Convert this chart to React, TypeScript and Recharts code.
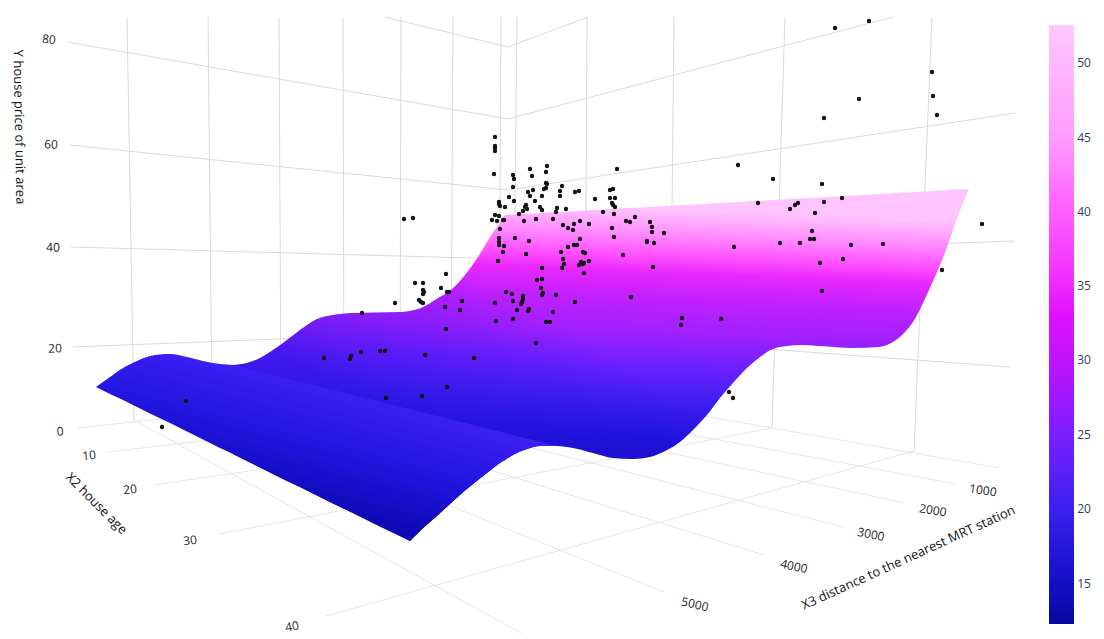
import React from 'react';
import { ComposedChart, Area, Line, Scatter, XAxis, YAxis, ReferenceArea } from 'recharts';

const surfaceX = [96,110,123,137,150,170,187,203,220,233,247,260,273,287,300,317,333,353,377,401,408,410,412,421,438,451,465,478,492,499,503,505,507,513,527,540,557,573,593,613,633,650,667,680,693,707,720,733,747,760,773,787,800,819,853,879,896,905,913,929,946,959,969];
const surfaceTop = [387,377,368,361,356,354,357,361,364,365,363,358,350,340,330,319,315,313,312.5,312,311.3,311,310.6,308,298,290,275,257,234,224,218,215,214.9,214.5,213.8,213,212.1,211.2,210,209,207.8,206.9,206,205.2,204.5,203.7,203,202.2,201.4,200.7,200,199.2,198.5,197.4,195.5,194,193.1,192.6,192.2,191.3,190.3,189.6,189];
const surfaceBottom = [387,394,400,407,413.5,423,431.5,439.5,448,454,461,467.5,474,481,487,495.5,503.5,513,525,536.5,540,541,539,530,515,503,490.5,480,469,463.7,461,460,458.6,455,449,446,446,448,453,458,459,457,450,442,430,415,398,383,368,357,349,346,345,346,348,347,340,332,322,290,250,213,189];
// fold running across the front of the surface, from x=233 to x=557
const foldLine = [365,368.5,371.8,375,378.5,381.8,386,390,395,401,407,408.8,409.3,409.8,412,416.3,419.5,423,426.3,429.8,431.5,432.5,433,433.5,435,438.5,441.8,446];

const pointX = [495,495,495,495,494,513,514,530,547,532,546,617,513,546,547,544,546,562,560,533,528,530,542,560,575,579,610,613,509,514,535,499,499,500,505,526,525,527,540,542,557,556,566,595,610,615,612,613,615,523,519,495,499,492,497,503,504,524,536,553,603,614,626,630,635,650,652,652,664,563,568,573,574,580,589,500,612,614,499,499,499,515,529,580,647,647,654,504,568,574,577,561,583,585,503,526,623,563,498,564,562,542,579,581,583,584,589,653,584,537,542,541,446,415,423,441,423,424,423,447,449,419,421,423,395,506,512,523,523,543,542,556,513,522,521,495,462,575,631,445,460,517,529,528,553,404,413,734,682,721,513,496,546,550,835,869,932,933,859,824,937,738,773,822,758,798,795,790,824,842,815,812,810,814,780,800,851,883,843,820,822,982,942,362,186,162,324,351,350,361,446,536,425,474,380,385,447,386,422,681,729,733];
const pointY = [137,146,148,151,174,175,179,169,166,176,172,169,187,183,184,189,188,186,191,190,192,196,196,196,192,191,190,189,197,201,201,202,204,206,207,205,207,209,207,210,208,212,209,199,198,198,203,205,207,211,214,215,216,220,221,220,220,221,219,219,212,214,221,222,217,222,227,232,233,225,228,230,224,221,224,229,228,237,238,242,245,238,241,239,242,241,243,246,247,245,245,252,252,253,252,254,255,259,261,264,268,268,265,262,264,263,261,267,273,280,279,288,274,283,283,288,290,292,294,292,292,300,302,303,303,292,294,296,299,293,295,295,301,302,304,303,301,302,297,307,310,310,309,311,312,219,218,247,318,319,319,321,322,322,28,21,72,96,99,118,115,165,179,184,203,203,205,209,202,198,213,231,239,239,243,243,245,244,259,263,291,224,270,313,401,427,358,356,359,352,329,343,355,358,351,351,387,398,396,325,392,398];

const wallLines = [
  [[385,17],[508,47],[588,17]],
  [[67,42],[508,119],[893,17]],
  [[69,145],[508,190],[1015,113]],
  [[71,247],[508,259],[1015,241]],
  [[73,347],[508,330],[1011,367]],
  [[127,17],[134,420]],
  [[208,17],[212,410]],
  [[279,17],[281,405]],
  [[343,17],[344,400]],
  [[401,17],[400,395]],
  [[453,17],[451,390]],
  [[501,17],[499,385]],
  [[517,17],[513,383]],
  [[587,17],[585,395]],
  [[674,17],[670,410]],
  [[785,17],[772,428]],
  [[932,17],[914,451]],
];
const floorLines = [
  [[78,428],[505,381],[772,428],[999,468]],
  [[109,452],[585,395]],
  [[153,485],[670,410]],
  [[219,534],[772,428]],
  [[326,616],[914,451]],
  [[664,592],[212,410]],
  [[764,555],[281,405]],
  [[843,527],[344,400]],
  [[904,503],[400,395]],
  [[956,484],[451,390]],
  [[134,420],[521,633]],
];

const priceTicks = ['80', '60', '40', '20', '0'];
const priceTickX = [49, 51, 53, 55, 60];
const priceTickY = [39, 144, 247, 348, 431];
const priceTickTilt = [6, 3, 1, -2, -4];

const ageTicks = ['10', '20', '30', '40'];
const ageTickX = [89, 130, 190, 292];
const ageTickY = [455, 489, 540, 626];
const ageTickTilt = [-6, -6, -6, -10];

const distanceTicks = ['5000', '4000', '3000', '2000', '1000'];
const distanceTickX = [695, 794, 871, 933, 983];
const distanceTickY = [604, 566, 534, 510, 490];
const distanceTickTilt = [13, 12, 11, 9, 8];

const axisTitles = ['Y house price of unit area', 'X2 house age', 'X3 distance to the nearest MRT station'];
const axisTitleX = [20, 97, 908];
const axisTitleY = [127, 503, 557];
const axisTitleTilt = [89, 45, -24.5];

// colour bar
const barTicks = [50, 45, 40, 35, 30, 25, 20, 15];
const barTickY = [62, 137, 211, 285, 359, 434, 508, 583];
const barZ = [52.5, 45, 40, 35, 33, 30, 27, 25, 20, 15, 12.2];
const barColors = ['#ffc8ff', '#ff9cff', '#ff60ff', '#f028ff', '#e010ff', '#c014fa', '#9a18ff', '#7a20ff', '#3c20f0', '#1410c4', '#0808a0'];

// colours met going up the back of the surface and up the front slope
const backOffsets = [0, 0.087, 0.218, 0.349, 0.484, 0.615, 0.722, 0.786, 0.881, 0.97];
const backColors = ['#1c10cc', '#2414e0', '#4020f0', '#6a20ff', '#a020ff', '#c020ff', '#e828ff', '#ff50ff', '#ff90ff', '#ffc4ff'];
const frontOffsets = [0, 0.5, 1];
const frontColors = ['#0a08b0', '#2014dc', '#3c20f5'];
// the colour bands fan out towards the left, so the low left of the back is darker
const shadeOffsets = [0, 0.3, 0.75, 1];
const shadeAlpha = [0, 0.15, 0.3, 0.5];

const backData = surfaceX
  .map((x, i) => ({ x, range: [surfaceBottom[i], surfaceTop[i]] }))
  .filter((d) => d.x >= 233);
const foldStart = surfaceX.indexOf(233);
const frontData = surfaceX
  .map((x, i) => ({ x, range: [surfaceBottom[i], x < 233 ? surfaceTop[i] : foldLine[i - foldStart]] }))
  .filter((d) => d.x <= 557);
const points = pointX.map((x, i) => ({ x, y: pointY[i] }));

const toLine = (pts: number[][]) => pts.map(([x, y]) => ({ x, y }));
const labels = (texts: string[], xs: number[], ys: number[], tilts: number[]) =>
  texts.map((text, i) => ({ x: xs[i], y: ys[i], text, tilt: tilts[i] }));

const TiltedText = ({ cx, cy, payload, fontPx = 12, fill = '#1c1c1c' }: any) => (
  <text
    x={cx}
    y={cy}
    fontSize={fontPx}
    fill={fill}
    fontFamily="'Open Sans', sans-serif"
    textAnchor="middle"
    dominantBaseline="central"
    transform={`rotate(${payload.tilt} ${cx} ${cy})`}
  >
    {payload.text}
  </text>
);

export default function App() {
  const tickData = [
    ...labels(priceTicks, priceTickX, priceTickY, priceTickTilt),
    ...labels(ageTicks, ageTickX, ageTickY, ageTickTilt),
    ...labels(distanceTicks, distanceTickX, distanceTickY, distanceTickTilt),
  ];
  const titleData = labels(axisTitles, axisTitleX, axisTitleY, axisTitleTilt);
  const barTickData = barTicks.map((t, i) => ({ x: 1084, y: barTickY[i], text: String(t), tilt: 0 }));

  return (
    <div style={{ position: 'absolute', left: 0, top: 0, background: '#fff' }}>
      <ComposedChart width={1104} height={639} margin={{ top: 0, right: 0, bottom: 0, left: 0 }}>
        <defs>
          <linearGradient id="backFill" gradientUnits="userSpaceOnUse" x1={670} y1={455} x2={680} y2={203}>
            {backOffsets.map((o, i) => <stop key={o} offset={o} stopColor={backColors[i]} />)}
          </linearGradient>
          <linearGradient id="backShade" gradientUnits="userSpaceOnUse" x1={500} y1={294} x2={416} y2={436}>
            {shadeOffsets.map((o, i) => <stop key={o} offset={o} stopColor="#2010e0" stopOpacity={shadeAlpha[i]} />)}
          </linearGradient>
          <linearGradient id="frontFill" gradientUnits="userSpaceOnUse" x1={410} y1={541} x2={442} y2={415}>
            {frontOffsets.map((o, i) => <stop key={o} offset={o} stopColor={frontColors[i]} />)}
          </linearGradient>
          <linearGradient id="barFill" x1={0} y1={0} x2={0} y2={1}>
            {barZ.map((z, i) => <stop key={z} offset={(52.5 - z) / 40.3} stopColor={barColors[i]} />)}
          </linearGradient>
        </defs>
        <XAxis dataKey="x" type="number" domain={[0, 1104]} hide allowDataOverflow />
        <YAxis dataKey="y" type="number" domain={[0, 639]} reversed hide allowDataOverflow />

        {wallLines.map((pts, i) => (
          <Line key={`wall${i}`} zIndex={10} data={toLine(pts)} dataKey="y" stroke="#d9d9d9" strokeWidth={1} dot={false} isAnimationActive={false} />
        ))}
        {floorLines.map((pts, i) => (
          <Line key={`floor${i}`} zIndex={10} data={toLine(pts)} dataKey="y" stroke="#e4e4e4" strokeWidth={1} dot={false} isAnimationActive={false} />
        ))}

        <Area zIndex={100} data={backData} dataKey="range" type="monotone" fill="url(#backFill)" fillOpacity={1} stroke="none" dot={false} activeDot={false} isAnimationActive={false} />
        <Area zIndex={100} data={backData} dataKey="range" type="monotone" fill="url(#backShade)" fillOpacity={1} stroke="none" dot={false} activeDot={false} isAnimationActive={false} />
        <Area zIndex={100} data={frontData} dataKey="range" type="monotone" fill="url(#frontFill)" fillOpacity={1} stroke="none" dot={false} activeDot={false} isAnimationActive={false} />

        <Scatter data={points} dataKey="y" isAnimationActive={false}
          shape={(p: any) => <circle cx={p.cx} cy={p.cy} r={2.2} fill="#141414" />} />

        <Scatter data={tickData} dataKey="y" isAnimationActive={false} shape={(p: any) => <TiltedText {...p} />} />
        <Scatter data={titleData} dataKey="y" isAnimationActive={false} shape={(p: any) => <TiltedText {...p} fontPx={13} fill="#111" />} />

        <ReferenceArea x1={1049} x2={1074} y1={25} y2={624} fill="url(#barFill)" fillOpacity={1} stroke="none" />
        <Scatter data={barTickData} dataKey="y" isAnimationActive={false} shape={(p: any) => <TiltedText {...p} fill="#2a3f5f" />} />
      </ComposedChart>
    </div>
  );
}
